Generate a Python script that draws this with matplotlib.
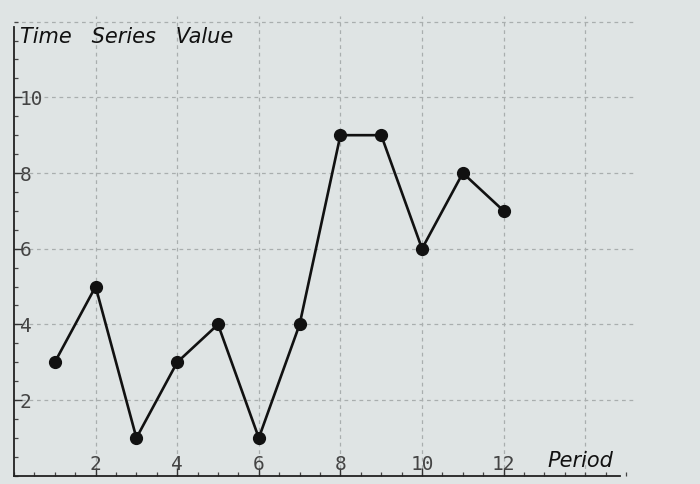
import matplotlib
matplotlib.use("Agg")
import matplotlib.pyplot as plt
from matplotlib.ticker import MultipleLocator

# data
periods = [1, 2, 3, 4, 5, 6, 7, 8, 9, 10, 11, 12]
values = [3, 5, 1, 3, 4, 1, 4, 9, 9, 6, 8, 7]
x_ticks = [2, 4, 6, 8, 10, 12]
y_ticks = [2, 4, 6, 8, 10]

bg = "#dfe4e4"
grid_col = "#a9aeae"

fig = plt.figure(figsize=(7, 4.84), dpi=100, facecolor=bg)
ax = fig.add_axes([0.02, 0.017, 0.886, 0.95])
ax.set_facecolor(bg)

ax.plot(periods, values, color="#111111", lw=1.9, marker="o", ms=8.5,
        mfc="#111111", mec="#111111", zorder=3)

ax.set_xlim(0, 15.2)
ax.set_ylim(0, 12.15)

# dashed grid at the major positions (incl. 14 and 12)
for gx in [2, 4, 6, 8, 10, 12, 14]:
    ax.axvline(gx, color=grid_col, lw=0.9, ls=(0, (3, 3)), zorder=1)
for gy in [2, 4, 6, 8, 10, 12]:
    ax.axhline(gy, color=grid_col, lw=0.9, ls=(0, (3, 3)), zorder=1)

for s in ["top", "right"]:
    ax.spines[s].set_visible(False)
ax.spines["bottom"].set_bounds(0, 14.85)
ax.spines["left"].set_bounds(0, 11.85)
for s in ["left", "bottom"]:
    ax.spines[s].set_color("#222222")
    ax.spines[s].set_linewidth(1.3)

ax.set_xticks(x_ticks)
ax.set_yticks(y_ticks)
ax.xaxis.set_minor_locator(MultipleLocator(0.5))
ax.yaxis.set_minor_locator(MultipleLocator(0.5))
ax.tick_params(which="major", direction="in", length=6, width=1, color="#333333",
               labelsize=14, labelcolor="#444444")
ax.tick_params(which="minor", direction="in", length=3, width=0.9, color="#444444")
ax.tick_params(axis="y", which="major", pad=-4)
ax.tick_params(axis="x", which="major", pad=-1)
for lab in ax.get_yticklabels():
    lab.set_ha("left")
    lab.set_family("DejaVu Sans Mono")
for lab in ax.get_xticklabels():
    lab.set_va("bottom")
    lab.set_family("DejaVu Sans Mono")

ax.text(6 / 620, 11.6, "Time   Series   Value", fontsize=15, style="italic",
        family="DejaVu Sans", color="#111111", va="center", ha="left",
        transform=ax.get_yaxis_transform())
ax.text(14.7, 0.38, "Period", fontsize=15, style="italic",
        family="DejaVu Sans", color="#111111", va="center", ha="right")

fig.savefig("out.png", dpi=100, facecolor=bg)
